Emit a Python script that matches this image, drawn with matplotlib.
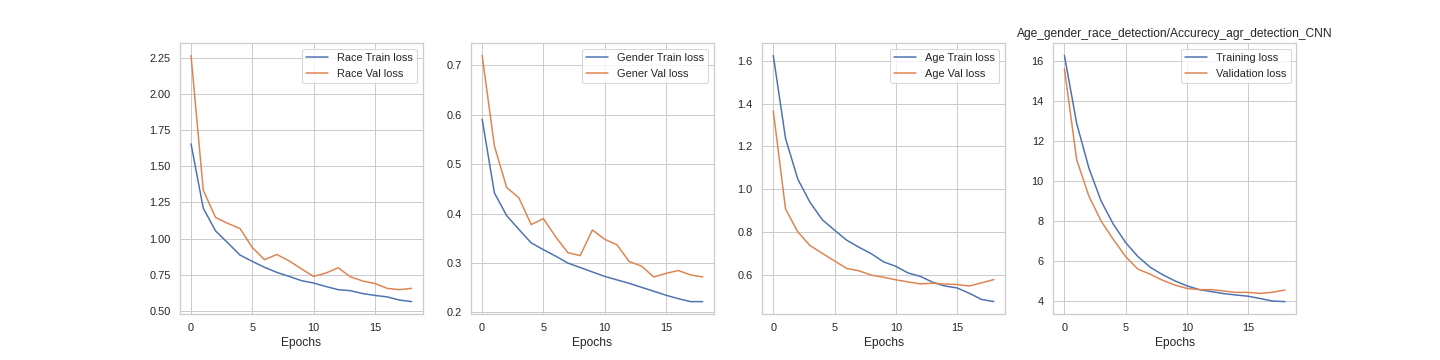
import matplotlib
matplotlib.use("Agg")
import matplotlib.pyplot as plt
import seaborn as sns

epochs = list(range(19))

race_train = [1.657, 1.21, 1.053, 0.97, 0.885, 0.841, 0.80, 0.765, 0.737, 0.708, 0.691,
              0.667, 0.645, 0.638, 0.618, 0.605, 0.595, 0.573, 0.562]
race_val = [2.27, 1.335, 1.146, 1.105, 1.069, 0.938, 0.853, 0.889, 0.845, 0.79, 0.737,
            0.76, 0.797, 0.735, 0.705, 0.688, 0.654, 0.645, 0.654]

gender_train = [0.591, 0.442, 0.396, 0.368, 0.341, 0.327, 0.314, 0.300, 0.291, 0.282, 0.273,
                0.266, 0.259, 0.251, 0.243, 0.235, 0.228, 0.222, 0.222]
gender_val = [0.72, 0.537, 0.453, 0.432, 0.378, 0.390, 0.353, 0.321, 0.315, 0.367, 0.348,
              0.337, 0.303, 0.294, 0.272, 0.279, 0.285, 0.276, 0.272]

age_train = [1.625, 1.237, 1.047, 0.938, 0.857, 0.808, 0.761, 0.728, 0.698, 0.66, 0.639,
             0.608, 0.592, 0.565, 0.547, 0.538, 0.513, 0.484, 0.474]
age_val = [1.366, 0.907, 0.80, 0.736, 0.70, 0.664, 0.629, 0.618, 0.598, 0.588, 0.576,
           0.566, 0.557, 0.560, 0.556, 0.554, 0.547, 0.562, 0.577]

total_train = [16.25, 12.86, 10.62, 8.97, 7.81, 6.90, 6.20, 5.67, 5.30, 4.99, 4.74,
               4.55, 4.45, 4.35, 4.28, 4.22, 4.10, 3.98, 3.95]
total_val = [15.59, 11.04, 9.22, 7.97, 7.05, 6.20, 5.57, 5.32, 5.02, 4.78, 4.61,
             4.55, 4.55, 4.48, 4.41, 4.41, 4.36, 4.42, 4.53]

panels = [
    (race_train, race_val, "Race Train loss", "Race Val loss"),
    (gender_train, gender_val, "Gender Train loss", "Gener Val loss"),
    (age_train, age_val, "Age Train loss", "Age Val loss"),
    (total_train, total_val, "Training loss", "Validation loss"),
]

sns.set_theme(style="whitegrid")
plt.rcParams['font.family'] = ['Liberation Sans', 'DejaVu Sans']

fig, axes = plt.subplots(1, 4, figsize=(20, 5), dpi=72)
fig.subplots_adjust(bottom=0.128, top=0.88)
for ax, (train, val, l1, l2) in zip(axes, panels):
    ax.plot(epochs, train, label=l1)
    ax.plot(epochs, val, label=l2)
    ax.set_xlabel('Epochs')
    ax.legend(loc='upper right')

axes[3].set_title('Age_gender_race_detection/Accurecy_agr_detection_CNN')

fig.savefig('out.png', dpi=72)
